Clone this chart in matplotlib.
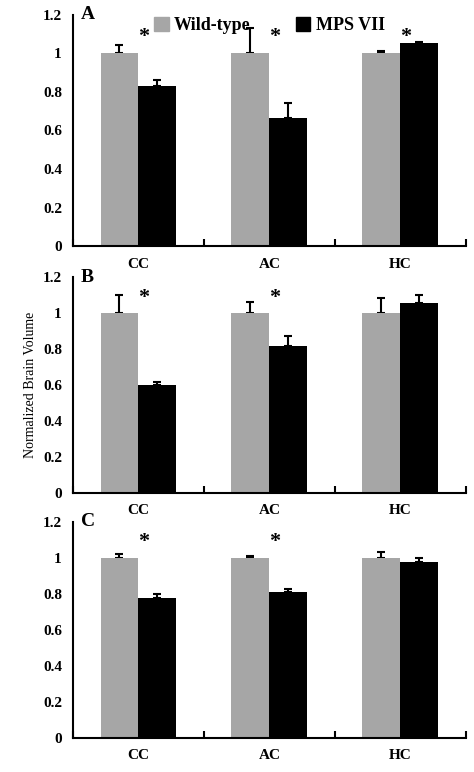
import numpy as np
import matplotlib.pyplot as plt
from matplotlib.patches import Patch

plt.rcParams['font.family'] = ['Liberation Serif', 'DejaVu Serif']
plt.rcParams['font.weight'] = 'bold'

categories = ['CC', 'AC', 'HC']
panels = ['A', 'B', 'C']
wt_vals = [[1, 1, 1], [1, 1, 1], [1, 1, 1]]
wt_err = [[0.045, 0.13, 0.01], [0.10, 0.06, 0.085], [0.02, 0.01, 0.035]]
mps_vals = [[0.83, 0.665, 1.055], [0.60, 0.82, 1.055], [0.775, 0.81, 0.975]]
mps_err = [[0.03, 0.075, 0.005], [0.02, 0.055, 0.045], [0.025, 0.02, 0.025]]
stars = [[True, True, True], [True, True, False], [True, True, False]]

fig = plt.figure(figsize=(4.74, 7.72), dpi=100)
boxes = [(0.681, 0.981), (0.361, 0.641), (0.044, 0.324)]
x = np.arange(3)
w = 0.29
for i, (b, t) in enumerate(boxes):
    ax = fig.add_axes([0.154, b, 0.829, t - b])
    ax.bar(x - w / 2, wt_vals[i], w, color='#a6a6a6', zorder=2)
    ax.bar(x + w / 2, mps_vals[i], w, color='black', zorder=2)
    ax.errorbar(x - w / 2, wt_vals[i], yerr=[np.zeros(3), wt_err[i]], fmt='none',
                ecolor='black', elinewidth=1.5, capsize=3, capthick=1.5, zorder=1)
    ax.errorbar(x + w / 2, mps_vals[i], yerr=[np.zeros(3), mps_err[i]], fmt='none',
                ecolor='black', elinewidth=1.5, capsize=3, capthick=1.5, zorder=1)
    for j in range(3):
        if stars[i][j]:
            ax.text(x[j] + 0.04, 1.03, '*', ha='center', va='bottom', fontsize=16)
    ax.set_xlim(-0.5, 2.5)
    ax.set_ylim(0, 1.2)
    ax.set_yticks([0, 0.2, 0.4, 0.6, 0.8, 1, 1.2])
    ax.set_yticklabels(['0', '0.2', '0.4', '0.6', '0.8', '1', '1.2'], fontsize=11)
    ax.set_xticks([-0.5, 0.5, 1.5, 2.5])
    ax.set_xticklabels([])
    ax.tick_params(axis='x', direction='in', length=5, width=1.5)
    ax.tick_params(axis='y', length=0, pad=8)
    for j, c in enumerate(categories):
        ax.text(x[j], -0.06, c, ha='center', va='top', fontsize=11,
                transform=ax.transData, clip_on=False)
    ax.spines[['top', 'right']].set_visible(False)
    ax.spines[['left', 'bottom']].set_linewidth(1.5)
    ax.text(-0.44, 1.2, panels[i], fontsize=14, va='center', ha='left')
    if i == 0:
        ax.legend(handles=[Patch(color='#a6a6a6', label='Wild-type'),
                           Patch(color='black', label='MPS VII')],
                  loc='upper center', bbox_to_anchor=(0.5, 1.06), ncol=2,
                  frameon=False, fontsize=13, handlelength=0.8, handleheight=0.8,
                  handletextpad=0.3, columnspacing=2.5)
    if i == 1:
        ax.set_ylabel('Normalized Brain Volume', fontsize=10)

fig.savefig('out.png', dpi=100)
